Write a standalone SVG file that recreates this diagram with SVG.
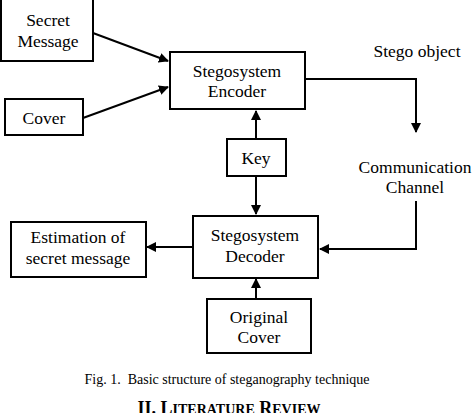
<svg xmlns="http://www.w3.org/2000/svg" width="474" height="413" viewBox="0 0 474 413">
<style>
.box{fill:#fff;stroke:#000;stroke-width:2}
.t{font-family:"Liberation Serif","Times New Roman",serif;font-size:17.5px;fill:#000;text-anchor:middle}
.c{fill:none;stroke:#000;stroke-width:2}
.cap{font-family:"Liberation Serif","Times New Roman",serif;font-size:14px;fill:#000;text-anchor:middle;white-space:pre}
.h{font-family:"Liberation Serif","Times New Roman",serif;font-weight:bold;fill:#000;text-anchor:middle}
</style>
<defs>
<marker id="ah" markerWidth="10" markerHeight="10" refX="9" refY="5" orient="auto" markerUnits="userSpaceOnUse" viewBox="0 0 10 10">
<path d="M0,0 L10,5 L0,10 z" fill="#000"/>
</marker>
</defs>
<rect width="474" height="413" fill="#fff"/>
<g id="connectors">
<line class="c" x1="93" y1="33" x2="168" y2="61" marker-end="url(#ah)"/>
<line class="c" x1="83" y1="118" x2="168" y2="87" marker-end="url(#ah)"/>
<polyline class="c" points="305,79 416,79 416,132" marker-end="url(#ah)"/>
<line class="c" x1="256" y1="139" x2="256" y2="111" marker-end="url(#ah)"/>
<line class="c" x1="256" y1="176" x2="256" y2="214" marker-end="url(#ah)"/>
<line class="c" x1="193" y1="247" x2="147" y2="247" marker-end="url(#ah)"/>
<polyline class="c" points="416,201 416,249 320,249" marker-end="url(#ah)"/>
<line class="c" x1="256" y1="299" x2="256" y2="279" marker-end="url(#ah)"/>
</g>
<g id="secret-message">
<rect class="box" x="1" y="-2" width="92" height="63"/>
<text class="t" x="48" y="26">Secret</text>
<text class="t" x="48" y="47">Message</text>
</g>
<g id="cover">
<rect class="box" x="5" y="99" width="78" height="36"/>
<text class="t" x="44" y="124">Cover</text>
</g>
<g id="encoder">
<rect class="box" x="170" y="52" width="135" height="57"/>
<text class="t" x="237" y="77">Stegosystem</text>
<text class="t" x="237" y="97">Encoder</text>
</g>
<g id="stego-object">
<text class="t" x="417" y="57">Stego object</text>
</g>
<g id="key">
<rect class="box" x="227" y="139" width="59" height="37"/>
<text class="t" x="256" y="164">Key</text>
</g>
<g id="channel">
<text class="t" x="415" y="173">Communication</text>
<text class="t" x="415" y="193">Channel</text>
</g>
<g id="decoder">
<rect class="box" x="193" y="216" width="125" height="62"/>
<text class="t" x="255" y="241">Stegosystem</text>
<text class="t" x="255" y="262">Decoder</text>
</g>
<g id="estimation">
<rect class="box" x="11" y="222" width="135" height="55"/>
<text class="t" x="78" y="243">Estimation of</text>
<text class="t" x="78" y="264">secret message</text>
</g>
<g id="original-cover">
<rect class="box" x="207" y="299" width="104" height="54"/>
<text class="t" x="259" y="323">Original</text>
<text class="t" x="259" y="343">Cover</text>
</g>
<text class="cap" x="227" y="384">Fig. 1.  Basic structure of steganography technique</text>
<text class="h" x="229" y="414" font-size="18">II. L<tspan font-size="14">ITERATURE</tspan> R<tspan font-size="14">EVIEW</tspan></text>
</svg>
